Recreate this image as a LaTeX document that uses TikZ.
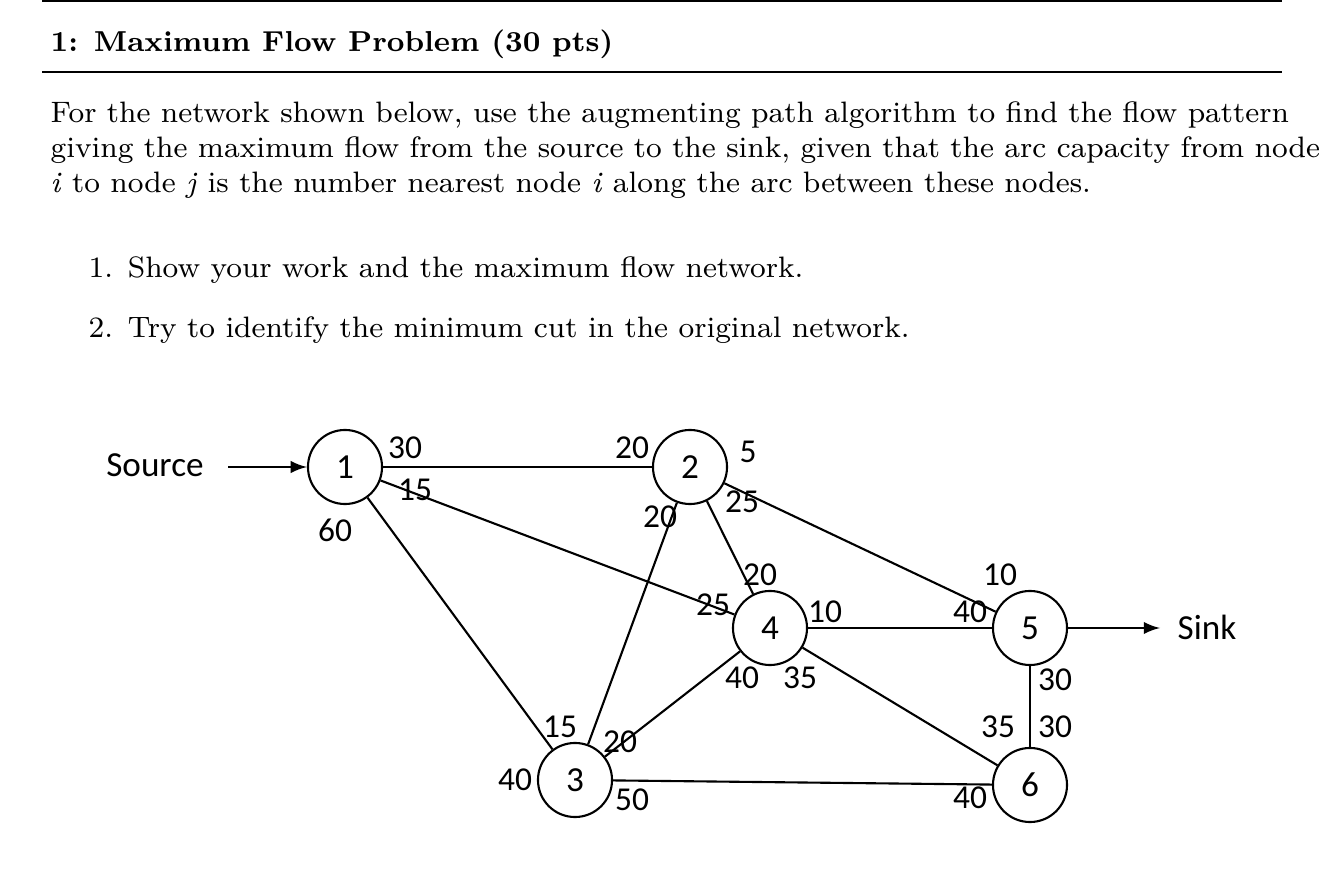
\documentclass[tikz,border=0pt]{standalone}
\usepackage{fontspec}
\newfontfamily\sansgraph{Carlito}
\usetikzlibrary{positioning}
\usetikzlibrary{arrows}
\tikzset{
  vertex/.style={circle,draw,semithick,minimum size=0.74cm,inner sep=0pt,font=\sansgraph\fontsize{10}{10}\selectfont},
  capac/.style={font=\sansgraph\fontsize{9.5}{10}\selectfont,inner sep=0pt},
  txt/.style={anchor=base west,inner sep=0pt,font=\fontsize{8.4}{10}\selectfont}
}
\begin{document}
\begin{tikzpicture}[x=0.01cm,y=-0.01cm]
\useasboundingbox (0,0) rectangle (1320,870);
% header
\draw (42,1) -- (1282,1);
\node[txt,font=\bfseries\fontsize{8.2}{10}\selectfont] (title) at (50,52) {1: Maximum Flow Problem (30 pts)};
\draw (42,72) -- (1282,72);
\node[txt] (l1) at (50,123) {For the network shown below, use the augmenting path algorithm to find the flow pattern};
\node[txt] (l2) at (50,158) {giving the maximum flow from the source to the sink, given that the arc capacity from node};
\node[txt] (l3) at (50,193) {\textit{i} to node \textit{j} is the number nearest node \textit{i} along the arc between these nodes.};
\node[txt] (i1) at (88,278) {1.\enspace Show your work and the maximum flow network.};
\node[txt] (i2) at (88,338) {2.\enspace Try to identify the minimum cut in the original network.};
% network
\node[vertex] (n1) at (345,467) {1};
\node[vertex] (n2) at (690,467) {2};
\node[vertex] (n3) at (575,780) {3};
\node[vertex] (n4) at (770,628) {4};
\node[vertex] (n5) at (1030,628) {5};
\node[vertex] (n6) at (1030,785) {6};
\node[capac,font=\sansgraph\fontsize{10}{10}\selectfont] (src) at (155,465) {Source};
\node[capac,font=\sansgraph\fontsize{10}{10}\selectfont] (snk) at (1207,627) {Sink};
\coordinate (srcend) at (228,467);
\coordinate (snkend) at (1160,628);
\draw[semithick,-latex] (srcend) -- (n1);
\draw[semithick,-latex] (n5) -- (snkend);
\draw[semithick] (n1) -- (n2);
\draw[semithick] (n1) -- (n4);
\draw[semithick] (n1) -- (n3);
\draw[semithick] (n2) -- (n4);
\draw[semithick] (n2) -- (n3);
\draw[semithick] (n2) -- (n5);
\draw[semithick] (n4) -- (n5);
\draw[semithick] (n4) -- (n6);
\draw[semithick] (n4) -- (n3);
\draw[semithick] (n3) -- (n6);
\draw[semithick] (n5) -- (n6);
% capacities
\node[capac] (c12) at (405,448) {30};
\node[capac] (c14) at (415,490) {15};
\node[capac] (c13) at (335,530) {60};
\node[capac] (c21) at (632,448) {20};
\node[capac] (c25) at (748,452) {5};
\node[capac] (c23) at (660,517) {20};
\node[capac] (c24) at (742,502) {25};
\node[capac] (c42) at (760,575) {20};
\node[capac] (c41) at (713,605) {25};
\node[capac] (c45) at (825,612) {10};
\node[capac] (c52) at (1000,575) {10};
\node[capac] (c54) at (970,612) {40};
\node[capac] (c43) at (742,678) {40};
\node[capac] (c46) at (800,678) {35};
\node[capac] (c56) at (1055,680) {30};
\node[capac] (c64) at (998,727) {35};
\node[capac] (c65) at (1055,727) {30};
\node[capac] (c32) at (560,727) {15};
\node[capac] (c34) at (620,742) {20};
\node[capac] (c31) at (515,780) {40};
\node[capac] (c36) at (632,800) {50};
\node[capac] (c63) at (970,798) {40};
\end{tikzpicture}
\end{document}
